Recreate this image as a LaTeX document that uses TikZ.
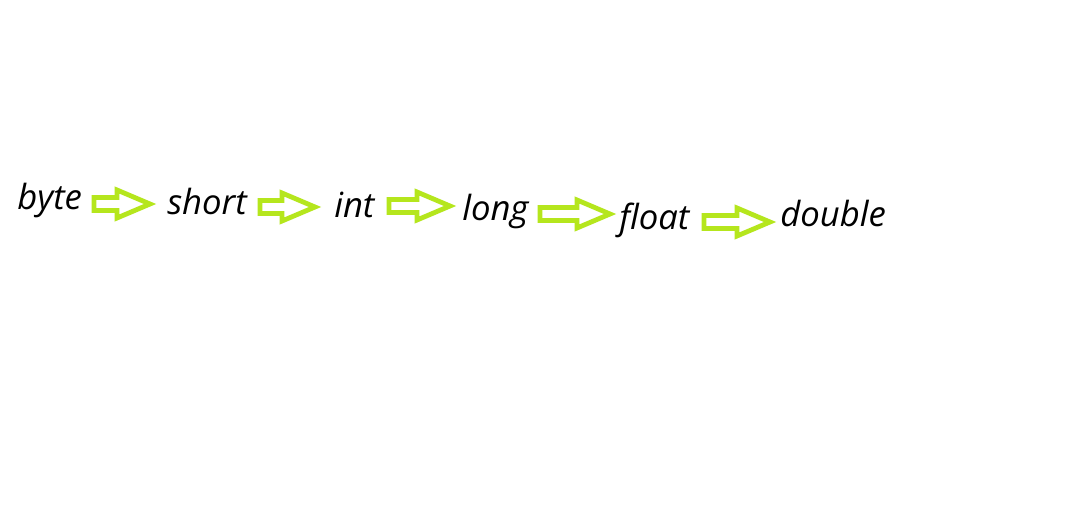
\documentclass[tikz,border=0pt]{standalone}
\usepackage{fontspec}
\setmainfont{Open Sans}
\begin{document}
\begin{tikzpicture}[x=0.75pt,y=-0.75pt,
  word/.style={anchor=base west,inner sep=0pt,font=\fontsize{26pt}{30pt}\selectfont\itshape},
  garrow/.pic={\draw[draw=arrowgreen,line width=3.6pt,miter limit=10]
     (0,-6.5) -- (\pgfkeysvalueof{/tikz/alen}-33,-6.5) -- (\pgfkeysvalueof{/tikz/alen}-33,-14) -- (\pgfkeysvalueof{/tikz/alen},0)
     -- (\pgfkeysvalueof{/tikz/alen}-33,14) -- (\pgfkeysvalueof{/tikz/alen}-33,6.5) -- (0,6.5) -- cycle;},
  alen/.initial=56]
\definecolor{arrowgreen}{HTML}{B5E61D}
\useasboundingbox[fill=white] (0,0) rectangle (1068,510);
\node[word] (byte) at (17,209) {byte};
\node[word] (short) at (167,214) {short};
\node[word] (int) at (334,217) {int};
\node[word] (long) at (462,220) {long};
\node[word] (float) at (619,229) {float};
\node[word] (double) at (780,226) {double};
\pic[alen=56] at (94,204) {garrow};
\pic[alen=55] at (260,207) {garrow};
\pic[alen=61] at (389,206) {garrow};
\pic[alen=70] at (540,214) {garrow};
\pic[alen=66] at (704,222) {garrow};
\end{tikzpicture}
\end{document}
